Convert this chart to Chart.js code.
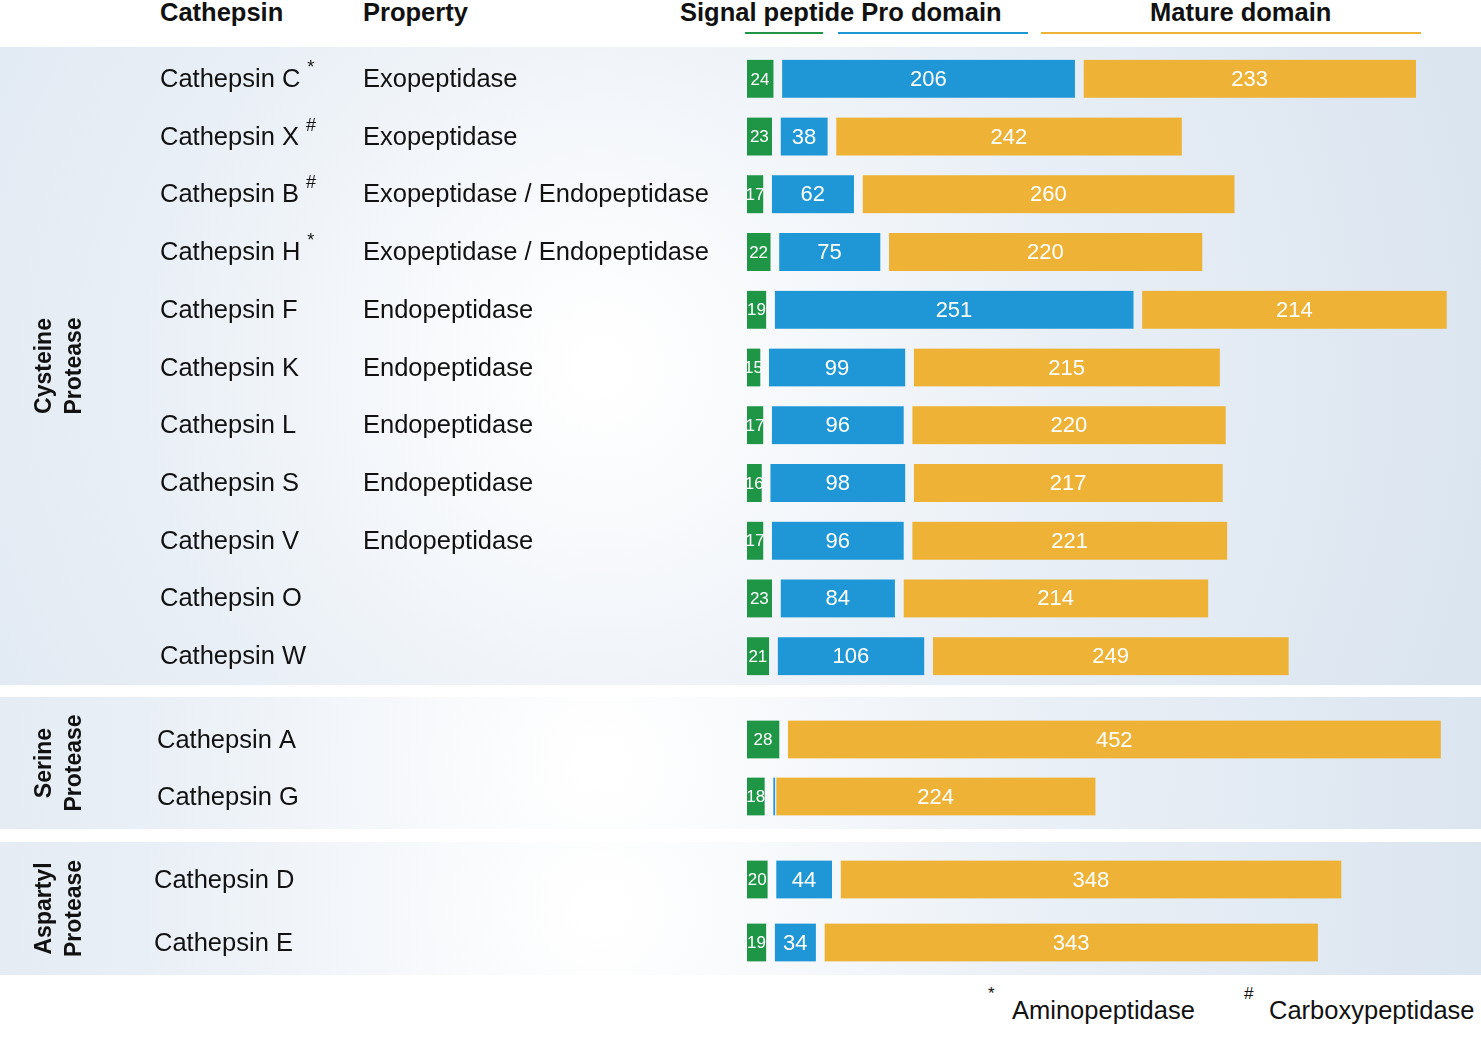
<!DOCTYPE html>
<html><head><meta charset="utf-8">
<script src="https://cdn.jsdelivr.net/npm/chart.js@4"></script>
<style>
html,body{margin:0;padding:0;background:#fff}
#wrap{position:relative;width:1481px;height:1059px;font-family:"Liberation Sans",Arial,sans-serif;color:#111}
.box{position:absolute;left:0;width:1481px}
.t{position:absolute;white-space:nowrap;font-size:25.5px}
.b{font-weight:bold}
.line{position:absolute;height:2px;top:32px}
</style>
</head><body>
<div id="wrap">
  <div class="t b" style="left:160px;top:-2px">Cathepsin</div>
  <div class="t b" style="left:363px;top:-2px">Property</div>
  <div class="t b" style="left:680px;top:-2px">Signal peptide Pro domain</div>
  <div class="t b" style="left:1150px;top:-2px">Mature domain</div>
  <div class="line" style="left:745px;width:78px;background:#1e9646"></div>
  <div class="line" style="left:838px;width:190px;background:#1f97d6"></div>
  <div class="line" style="left:1041px;width:380px;background:#edb236"></div>
  <div class="box" style="top:47px;height:638px"><canvas id="cys"></canvas></div>
  <div class="box" style="top:697px;height:132px"><canvas id="ser"></canvas></div>
  <div class="box" style="top:842px;height:133px"><canvas id="asp"></canvas></div>
  <div class="t" style="left:988px;top:984px;font-size:17px">*</div>
  <div class="t" style="left:1012px;top:996px">Aminopeptidase</div>
  <div class="t" style="left:1244px;top:984px;font-size:17px">#</div>
  <div class="t" style="left:1269px;top:996px">Carboxypeptidase</div>
</div>
<script>
// Cysteine proteases
const cysNames = ['Cathepsin C','Cathepsin X','Cathepsin B','Cathepsin H','Cathepsin F','Cathepsin K','Cathepsin L','Cathepsin S','Cathepsin V','Cathepsin O','Cathepsin W'];
const cysMarks = ['*','#','#','*','','','','','','',''];
const cysProperty = ['Exopeptidase','Exopeptidase','Exopeptidase / Endopeptidase','Exopeptidase / Endopeptidase','Endopeptidase','Endopeptidase','Endopeptidase','Endopeptidase','Endopeptidase','',''];
const cysSignal = [24,23,17,22,19,15,17,16,17,23,21];
const cysPro = [206,38,62,75,251,99,96,98,96,84,106];
const cysMature = [233,242,260,220,214,215,220,217,221,214,249];
// Serine proteases
const serNames = ['Cathepsin A','Cathepsin G'];
const serSignal = [28,18];
const serPro = [null,2];
const serMature = [452,224];
// Aspartyl proteases
const aspNames = ['Cathepsin D','Cathepsin E'];
const aspSignal = [20,19];
const aspPro = [44,34];
const aspMature = [348,343];

const green='#1e9646', blue='#1f97d6', orange='#edb236';
const font='"Liberation Sans", Arial, sans-serif';

function makeChart(id, cfg){
  const decor = {
    id:'decor',
    beforeDatasetsDraw(chart){
      const ctx=chart.ctx, y=chart.scales.y, h=chart.height;
      const gr=ctx.createRadialGradient(600,h/2,20,600,h/2,900);
      gr.addColorStop(0,'#ffffff');gr.addColorStop(0.5,'#e9eff6');gr.addColorStop(1,'#dbe5f0');
      ctx.fillStyle=gr;ctx.fillRect(0,0,chart.width,h);
      ctx.save();ctx.translate(0,h/2);ctx.rotate(-Math.PI/2);
      ctx.fillStyle='#111';ctx.font='bold 23px '+font;ctx.textAlign='center';ctx.textBaseline='middle';
      ctx.fillText(cfg.group[0],0,45);ctx.fillText(cfg.group[1],0,75);ctx.restore();
      ctx.fillStyle='#111';ctx.textBaseline='middle';ctx.textAlign='left';
      cfg.names.forEach((n,i)=>{
        const py=y.getPixelForValue(i);
        ctx.font='25.5px '+font;ctx.fillText(n,cfg.nameX,py+1);
        const w=ctx.measureText(n).width;
        if(cfg.marks && cfg.marks[i]){ctx.font='18px '+font;ctx.fillText(cfg.marks[i],cfg.nameX+w+7,py-11);}
        if(cfg.property && cfg.property[i]){ctx.font='25.5px '+font;ctx.fillText(cfg.property[i],363,py+1);}
      });
    },
    afterDatasetsDraw(chart){
      const ctx=chart.ctx;
      ctx.fillStyle='#fff';ctx.textAlign='center';ctx.textBaseline='middle';
      chart.data.datasets.forEach((ds,di)=>{
        chart.getDatasetMeta(di).data.forEach((el,i)=>{
          const v=ds.data[i];if(v==null)return;
          const w=el.x-el.base-9;
          if(w<8)return;
          ctx.font=(w<34?'17px ':'22px ')+font;
          ctx.fillText(String(v),el.base+w/2,el.y+1);
        });
      });
    }
  };
  const border={top:0,bottom:0,left:0,right:9};
  return new Chart(document.getElementById(id),{
    type:'bar',
    data:{labels:cfg.names,datasets:[
      {label:'Signal peptide',data:cfg.signal,backgroundColor:green},
      {label:'Pro domain',data:cfg.pro,backgroundColor:blue},
      {label:'Mature domain',data:cfg.mature,backgroundColor:orange}
    ].map(d=>Object.assign(d,{barThickness:38,borderWidth:border,borderColor:'rgba(0,0,0,0)',borderSkipped:false}))},
    options:{
      indexAxis:'y',responsive:true,maintainAspectRatio:false,animation:false,
      layout:{padding:{left:747,right:11,top:cfg.padTop,bottom:cfg.padBottom}},
      plugins:{legend:{display:false},tooltip:{enabled:false}},
      scales:{
        x:{stacked:true,min:0,max:494,display:false},
        y:{stacked:true,display:false,offset:true,grid:{display:false}}
      }
    },
    plugins:[decor]
  });
}

makeChart('cys',{names:cysNames,marks:cysMarks,property:cysProperty,signal:cysSignal,pro:cysPro,mature:cysMature,group:['Cysteine','Protease'],nameX:160,padTop:3,padBottom:0});
makeChart('ser',{names:serNames,signal:serSignal,pro:serPro,mature:serMature,group:['Serine','Protease'],nameX:157,padTop:14,padBottom:4});
makeChart('asp',{names:aspNames,signal:aspSignal,pro:aspPro,mature:aspMature,group:['Aspartyl','Protease'],nameX:154,padTop:6,padBottom:1});
</script>
</body></html>
